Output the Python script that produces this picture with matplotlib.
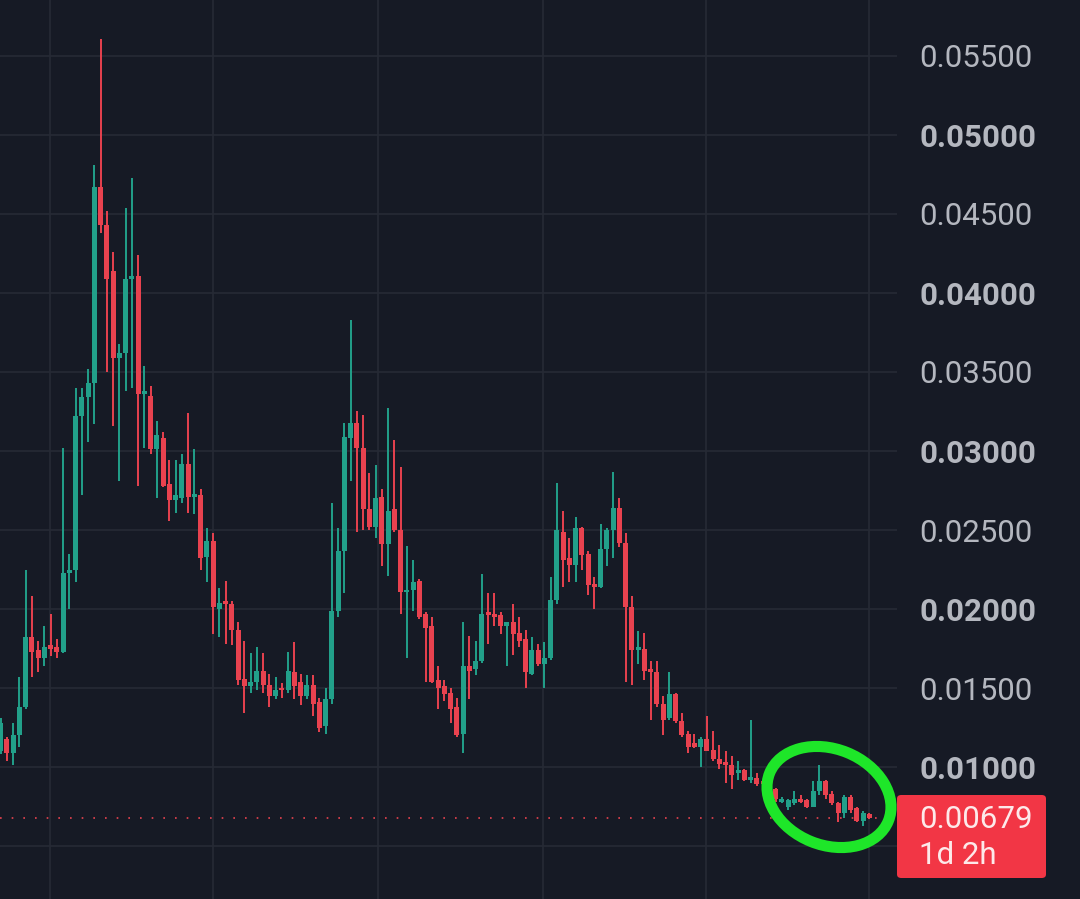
import matplotlib
matplotlib.use("Agg")
import matplotlib.pyplot as plt
import matplotlib.transforms as mtransforms
from matplotlib.patches import Ellipse, FancyBboxPatch
import numpy as np

plt.rcParams['font.family'] = ['Roboto', 'DejaVu Sans']

# OHLC, one candle per slot, left to right
opens = [0.0110, 0.0118, 0.0109, 0.0120, 0.0138, 0.0182, 0.0174, 0.0169, 0.0177, 0.0176,
         0.0173, 0.0223, 0.0225, 0.0322, 0.0334, 0.0343, 0.0467, 0.0443, 0.0414, 0.0359,
         0.0362, 0.0409, 0.0411, 0.0336, 0.0335, 0.0301, 0.0308, 0.0279, 0.0269, 0.0270,
         0.0292, 0.0271, 0.0272, 0.0233, 0.0243, 0.0200, 0.0205, 0.0203, 0.0187, 0.0156,
         0.0151, 0.0154, 0.0161, 0.0152, 0.0145, 0.0150, 0.0149, 0.0160, 0.0154, 0.0145,
         0.0152, 0.0141, 0.0126, 0.0143, 0.0199, 0.0237, 0.0308, 0.0318, 0.0302, 0.0263,
         0.0252, 0.0271, 0.0241, 0.0263, 0.0250, 0.0211, 0.0212, 0.0218, 0.0197, 0.0189,
         0.0155, 0.0151, 0.0147, 0.0138, 0.0121, 0.0164, 0.0162, 0.0167, 0.0198, 0.0197,
         0.0196, 0.0189, 0.0192, 0.0185, 0.0181, 0.0159, 0.0174, 0.0165, 0.0169, 0.0206,
         0.0249, 0.0232, 0.0228, 0.0251, 0.0235, 0.0216, 0.0214, 0.0238, 0.0250, 0.0264,
         0.0242, 0.0201, 0.0174, 0.0175, 0.0162, 0.0160, 0.0140, 0.0131, 0.0146, 0.0129,
         0.0121, 0.0115, 0.0113, 0.0118, 0.0111, 0.0105, 0.0103, 0.0101, 0.0096, 0.0098,
         0.0092, 0.0093, 0.0091, 0.0089, 0.0086, 0.0078, 0.0075, 0.0077, 0.0080, 0.0079,
         0.0075, 0.0085, 0.0091, 0.0083, 0.0077, 0.0071, 0.0081, 0.0074, 0.0066, 0.0070]
highs = [0.0131, 0.0119, 0.0128, 0.0157, 0.0225, 0.0208, 0.0180, 0.0189, 0.0197, 0.0181,
         0.0302, 0.0235, 0.0340, 0.0340, 0.0352, 0.0481, 0.0561, 0.0452, 0.0426, 0.0368,
         0.0454, 0.0473, 0.0424, 0.0354, 0.0341, 0.0319, 0.0312, 0.0294, 0.0294, 0.0298,
         0.0324, 0.0301, 0.0276, 0.0251, 0.0248, 0.0213, 0.0218, 0.0205, 0.0192, 0.0180,
         0.0172, 0.0176, 0.0172, 0.0159, 0.0157, 0.0153, 0.0173, 0.0179, 0.0159, 0.0158,
         0.0158, 0.0144, 0.0150, 0.0267, 0.0251, 0.0318, 0.0383, 0.0325, 0.0323, 0.0286,
         0.0291, 0.0276, 0.0327, 0.0307, 0.0290, 0.0240, 0.0231, 0.0219, 0.0198, 0.0195,
         0.0164, 0.0155, 0.0150, 0.0144, 0.0192, 0.0183, 0.0180, 0.0222, 0.0210, 0.0210,
         0.0198, 0.0192, 0.0203, 0.0195, 0.0187, 0.0182, 0.0178, 0.0179, 0.0220, 0.0280,
         0.0262, 0.0245, 0.0258, 0.0252, 0.0237, 0.0220, 0.0254, 0.0251, 0.0287, 0.0270,
         0.0248, 0.0208, 0.0186, 0.0185, 0.0167, 0.0167, 0.0145, 0.0160, 0.0147, 0.0134,
         0.0123, 0.0121, 0.0119, 0.0132, 0.0123, 0.0114, 0.0110, 0.0107, 0.0104, 0.0099,
         0.0130, 0.0096, 0.0092, 0.0090, 0.0087, 0.0081, 0.0080, 0.0085, 0.0082, 0.0080,
         0.0091, 0.0101, 0.0092, 0.0085, 0.0078, 0.0082, 0.0082, 0.0075, 0.0072, 0.0071]
lows = [0.0108, 0.0104, 0.0101, 0.0113, 0.0137, 0.0157, 0.0160, 0.0164, 0.0170, 0.0169,
        0.0172, 0.0200, 0.0217, 0.0272, 0.0306, 0.0317, 0.0438, 0.0350, 0.0316, 0.0281,
        0.0338, 0.0340, 0.0278, 0.0302, 0.0298, 0.0270, 0.0277, 0.0256, 0.0261, 0.0267,
        0.0261, 0.0260, 0.0225, 0.0217, 0.0184, 0.0182, 0.0178, 0.0177, 0.0152, 0.0134,
        0.0147, 0.0149, 0.0147, 0.0138, 0.0143, 0.0144, 0.0147, 0.0143, 0.0139, 0.0143,
        0.0132, 0.0122, 0.0121, 0.0140, 0.0195, 0.0210, 0.0281, 0.0249, 0.0250, 0.0250,
        0.0245, 0.0227, 0.0221, 0.0249, 0.0197, 0.0169, 0.0199, 0.0194, 0.0154, 0.0153,
        0.0137, 0.0142, 0.0128, 0.0119, 0.0109, 0.0143, 0.0158, 0.0166, 0.0178, 0.0189,
        0.0184, 0.0164, 0.0171, 0.0176, 0.0150, 0.0158, 0.0164, 0.0150, 0.0168, 0.0203,
        0.0214, 0.0217, 0.0217, 0.0225, 0.0209, 0.0200, 0.0213, 0.0227, 0.0232, 0.0239,
        0.0154, 0.0152, 0.0165, 0.0155, 0.0130, 0.0138, 0.0120, 0.0130, 0.0128, 0.0119,
        0.0109, 0.0112, 0.0100, 0.0110, 0.0104, 0.0099, 0.0090, 0.0086, 0.0092, 0.0091,
        0.0090, 0.0088, 0.0087, 0.0084, 0.0078, 0.0077, 0.0073, 0.0076, 0.0077, 0.0074,
        0.0075, 0.0082, 0.0080, 0.0076, 0.0065, 0.0068, 0.0071, 0.0065, 0.0063, 0.0067]
closes = [0.0128, 0.0109, 0.0120, 0.0138, 0.0182, 0.0173, 0.0169, 0.0176, 0.0175, 0.0173,
          0.0223, 0.0225, 0.0322, 0.0334, 0.0343, 0.0467, 0.0443, 0.0409, 0.0359, 0.0362,
          0.0409, 0.0411, 0.0336, 0.0338, 0.0301, 0.0310, 0.0278, 0.0269, 0.0272, 0.0292,
          0.0271, 0.0273, 0.0232, 0.0243, 0.0201, 0.0204, 0.0203, 0.0187, 0.0155, 0.0151,
          0.0154, 0.0161, 0.0152, 0.0145, 0.0149, 0.0149, 0.0161, 0.0151, 0.0145, 0.0152,
          0.0140, 0.0125, 0.0143, 0.0199, 0.0237, 0.0309, 0.0318, 0.0302, 0.0263, 0.0252,
          0.0270, 0.0241, 0.0262, 0.0250, 0.0211, 0.0212, 0.0217, 0.0195, 0.0188, 0.0154,
          0.0150, 0.0146, 0.0137, 0.0120, 0.0164, 0.0161, 0.0167, 0.0197, 0.0196, 0.0195,
          0.0189, 0.0192, 0.0184, 0.0180, 0.0160, 0.0174, 0.0165, 0.0169, 0.0206, 0.0250,
          0.0231, 0.0228, 0.0251, 0.0234, 0.0215, 0.0214, 0.0238, 0.0250, 0.0264, 0.0242,
          0.0201, 0.0174, 0.0176, 0.0161, 0.0160, 0.0140, 0.0130, 0.0146, 0.0129, 0.0120,
          0.0113, 0.0113, 0.0118, 0.0110, 0.0105, 0.0102, 0.0101, 0.0095, 0.0098, 0.0092,
          0.0094, 0.0089, 0.0089, 0.0086, 0.0080, 0.0080, 0.0079, 0.0080, 0.0078, 0.0075,
          0.0085, 0.0091, 0.0082, 0.0077, 0.0071, 0.0081, 0.0073, 0.0066, 0.0071, 0.00679]

last_price = 0.00679
countdown = "1d 2h"
tick_values = [0.010, 0.015, 0.020, 0.025, 0.030, 0.035, 0.040, 0.045, 0.050, 0.055]
tick_labels = ["0.01000", "0.01500", "0.02000", "0.02500", "0.03000",
               "0.03500", "0.04000", "0.04500", "0.05000", "0.05500"]
time_grid = [7.9, 34.0, 60.4, 86.8, 112.8, 138.9]

BG = '#161a25'
GRID = '#262a35'
UP = '#22a08a'
DOWN = '#e8424f'
TXT = '#b4b7bf'
FS = 22.5

o = np.array(opens); h = np.array(highs); l = np.array(lows); c = np.array(closes)
idx = np.arange(len(o))
up = c >= o
cols = np.where(up, UP, DOWN)

W, H = 1080, 899
fig = plt.figure(figsize=(W / 100, H / 100), dpi=100, facecolor=BG)
ax = fig.add_axes([0, 0, 897 / W, 1])
ax.set_facecolor(BG)

for v in tick_values + [0.005]:
    ax.axhline(v, color=GRID, lw=1.2, zorder=0)
for g in time_grid:
    ax.axvline(g, color=GRID, lw=1.2, zorder=0)

ax.vlines(idx, l, h, colors=cols, lw=1.4, zorder=2)
body_lo = np.minimum(o, c)
body_h = np.maximum(np.abs(c - o), 0.00008)
ax.bar(idx, body_h, bottom=body_lo, width=0.8, color=cols, lw=0, zorder=3)

ax.axhline(last_price, color=DOWN, lw=1.2, ls=(0, (1, 6)), zorder=1)

ax.set_xlim(-0.11, 143.4)
ax.set_ylim(0.00165, 0.05854)
ax.set_xticks([])
ax.yaxis.tick_right()
ax.set_yticks(tick_values)
ax.set_yticklabels(tick_labels)
ax.tick_params(axis='y', length=0, pad=16, labelsize=FS, colors=TXT)
for t, v in zip(ax.get_yticklabels(), tick_values):
    if round(v * 1000) % 10 == 0:
        t.set_fontweight('bold')
for s in ax.spines.values():
    s.set_visible(False)

# last price tag
box = FancyBboxPatch((897 / W, 21 / H), 149 / W, 83 / H,
                     boxstyle="round,pad=0,rounding_size=0.004",
                     transform=fig.transFigure, facecolor='#f23645',
                     edgecolor='none', zorder=5)
fig.add_artist(box)
fig.text(919 / W, (H - 820) / H, f"{last_price:.5f}", color='#fde9ea',
         fontsize=FS, va='center', ha='left', zorder=6)
fig.text(919 / W, (H - 856) / H, countdown, color='#fde9ea',
         fontsize=FS, va='center', ha='left', zorder=6)

# hand-drawn highlight ring
ring = Ellipse((829, H - 797), 128, 96, angle=-22, fill=False,
               edgecolor='#1ee629', lw=8, transform=mtransforms.IdentityTransform(),
               zorder=10)
fig.add_artist(ring)

fig.savefig("out.png", dpi=100, facecolor=BG)
